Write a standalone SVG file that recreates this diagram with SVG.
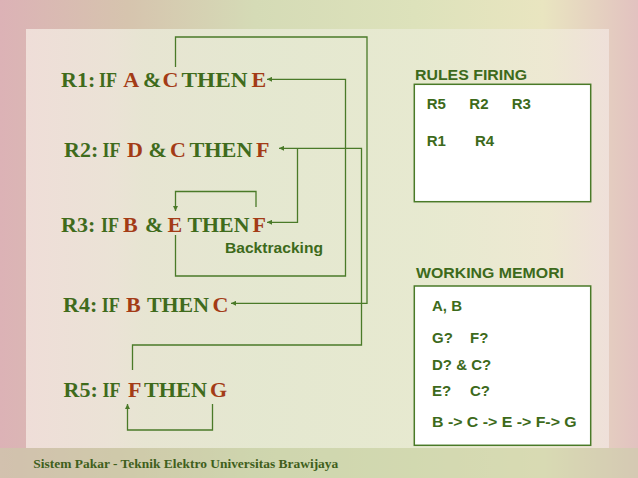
<svg xmlns="http://www.w3.org/2000/svg" width="638" height="478" viewBox="0 0 638 478">
<defs>
<linearGradient id="bg" x1="0" y1="0" x2="1" y2="0">
<stop offset="0" stop-color="#dcb2b6"/>
<stop offset="0.2" stop-color="#d6c4ae"/>
<stop offset="0.4" stop-color="#d5dbb6"/>
<stop offset="0.65" stop-color="#dde2bb"/>
<stop offset="0.85" stop-color="#e9e5c0"/>
<stop offset="1" stop-color="#e2c2c0"/>
</linearGradient>
<linearGradient id="panel" x1="0" y1="0" x2="1" y2="0">
<stop offset="0" stop-color="#f1e2dc"/>
<stop offset="0.15" stop-color="#ede6da"/>
<stop offset="0.2" stop-color="#e9e8d6"/>
<stop offset="0.4" stop-color="#e6e9d3"/>
<stop offset="0.7" stop-color="#e8ead2"/>
<stop offset="0.9" stop-color="#eee9d4"/>
<stop offset="1" stop-color="#f0e2dc"/>
</linearGradient>
<marker id="ah" viewBox="0 0 6 6" refX="6" refY="3" markerWidth="5" markerHeight="5" markerUnits="userSpaceOnUse" orient="auto">
<path d="M0,0 L6,3 L0,6 z" fill="#4a7a28"/>
</marker>
<style>
.rule{font-family:"Liberation Serif","Times New Roman",serif;font-weight:bold;font-size:22px;fill:#3f6b1c}
.v{fill:#a33b16}
.lbl{font-family:"Liberation Sans",Arial,sans-serif;font-weight:bold;font-size:15px;fill:#3d6a1b}
.wm{font-family:"Liberation Sans",Arial,sans-serif;font-weight:bold;font-size:15px;fill:#3d6a1b}
.box{fill:#ffffff;stroke:#4a7a28;stroke-width:1.5}
.ln{fill:none;stroke:#4a7a28;stroke-width:1.3}
</style>
</defs>
<rect x="0" y="0" width="638" height="478" fill="url(#bg)"/>
<rect x="0" y="448" width="638" height="30" fill="#c8cfa6" opacity="0.5"/>
<rect x="26" y="29" width="583" height="419" fill="url(#panel)" opacity="0.9"/>

<g id="connectors">
<path class="ln" d="M175.5,67 V37 H367 V303.3 H231" marker-end="url(#ah)"/>
<path class="ln" d="M175.5,235 V276 H345.5 V79.3 H267" marker-end="url(#ah)"/>
<path class="ln" d="M132.5,370 V345 H361.5 V148.3 H279" marker-end="url(#ah)"/>
<path class="ln" d="M297.5,148.3 V222.3 H267" marker-end="url(#ah)"/>
<path class="ln" d="M256,207 V191.5 H175.5 V211" marker-end="url(#ah)"/>
<path class="ln" d="M212.5,404 V430 H127.5 V404" marker-end="url(#ah)"/>
</g>

<g id="r1" class="rule">
<text x="61" y="86.5">R1:</text>
<text x="99" y="86.5" textLength="18" lengthAdjust="spacingAndGlyphs">IF</text>
<text class="v" x="123.3" y="86.5">A</text>
<text x="143" y="86.5">&amp;</text>
<text class="v" x="162.5" y="86.5">C</text>
<text x="181.5" y="86.5" textLength="66" lengthAdjust="spacingAndGlyphs">THEN</text>
<text class="v" x="251.5" y="86.5">E</text>
</g>
<g id="r2" class="rule">
<text x="64" y="156.5">R2:</text>
<text x="102.5" y="156.5" textLength="18" lengthAdjust="spacingAndGlyphs">IF</text>
<text class="v" x="127" y="156.5">D</text>
<text x="148.5" y="156.5">&amp;</text>
<text class="v" x="170" y="156.5">C</text>
<text x="189.5" y="156.5" textLength="63" lengthAdjust="spacingAndGlyphs">THEN</text>
<text class="v" x="256" y="156.5">F</text>
</g>
<g id="r3" class="rule">
<text x="61" y="231.5">R3:</text>
<text x="101" y="231.5" textLength="18" lengthAdjust="spacingAndGlyphs">IF</text>
<text class="v" x="123" y="231.5">B</text>
<text x="145" y="231.5">&amp;</text>
<text class="v" x="167.5" y="231.5">E</text>
<text x="187.5" y="231.5" textLength="62" lengthAdjust="spacingAndGlyphs">THEN</text>
<text class="v" x="252.5" y="231.5">F</text>
</g>
<g id="r4" class="rule">
<text x="63" y="311.5">R4:</text>
<text x="101.7" y="311.5" textLength="18" lengthAdjust="spacingAndGlyphs">IF</text>
<text class="v" x="126" y="311.5">B</text>
<text x="147" y="311.5" textLength="62" lengthAdjust="spacingAndGlyphs">THEN</text>
<text class="v" x="212.5" y="311.5">C</text>
</g>
<g id="r5" class="rule">
<text x="63.5" y="397">R5:</text>
<text x="102.5" y="397" textLength="18" lengthAdjust="spacingAndGlyphs">IF</text>
<text class="v" x="128" y="397">F</text>
<text x="144" y="397" textLength="63" lengthAdjust="spacingAndGlyphs">THEN</text>
<text class="v" x="210" y="397">G</text>
</g>
<g id="backtracking"><text class="lbl" x="225" y="252.5" textLength="98" lengthAdjust="spacingAndGlyphs">Backtracking</text></g>

<g id="rules-firing">
<text class="lbl" x="415" y="80" textLength="112" lengthAdjust="spacingAndGlyphs">RULES FIRING</text>
<rect class="box" x="414.3" y="84.3" width="176.4" height="117.4"/>
<text class="wm" x="426.7" y="109">R5</text>
<text class="wm" x="469.3" y="109">R2</text>
<text class="wm" x="511.7" y="109">R3</text>
<text class="wm" x="426.7" y="146">R1</text>
<text class="wm" x="475" y="146">R4</text>
</g>

<g id="working-memori">
<text class="lbl" x="416" y="278.3" textLength="148" lengthAdjust="spacingAndGlyphs">WORKING MEMORI</text>
<rect class="box" x="414.3" y="286" width="176.4" height="159.3"/>
<text class="wm" x="432" y="311">A, B</text>
<text class="wm" x="432" y="343.3">G?</text>
<text class="wm" x="470" y="343.3">F?</text>
<text class="wm" x="432" y="370">D? &amp; C?</text>
<text class="wm" x="432" y="395.7">E?</text>
<text class="wm" x="470" y="395.7">C?</text>
<text class="wm" x="432" y="426.7" textLength="144.7" lengthAdjust="spacingAndGlyphs">B -&gt; C -&gt; E -&gt; F-&gt; G</text>
</g>

<g id="footer"><text x="33.3" y="467.5" textLength="305" lengthAdjust="spacingAndGlyphs" style="font-family:'Liberation Serif','Times New Roman',serif;font-weight:bold;font-size:12.5px;fill:#3f5f1c">Sistem Pakar - Teknik Elektro Universitas Brawijaya</text></g>
</svg>
